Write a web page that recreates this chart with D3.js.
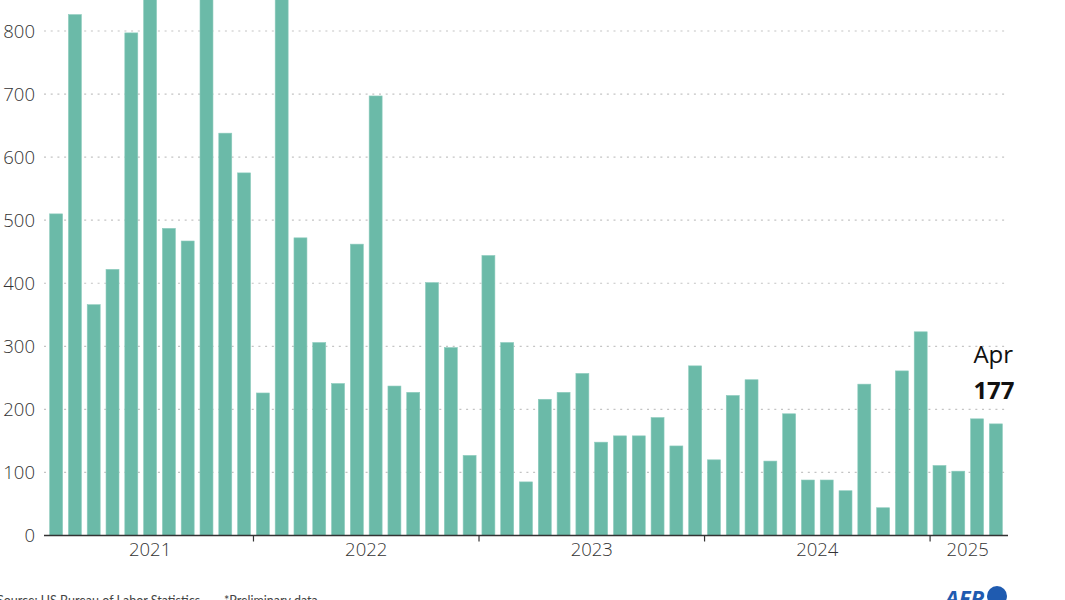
<!DOCTYPE html>
<html>
<head>
<meta charset="utf-8">
<script src="https://cdn.jsdelivr.net/npm/d3@7"></script>
<style>
  html, body { margin: 0; padding: 0; background: #fff; }
  svg { display: block; font-family: "Open Sans", "Noto Sans", sans-serif; }
</style>
</head>
<body>
<div id="chart"></div>
<script>
// monthly US job gains, thousands (Feb 2021 - Apr 2025)
const months = [
  "2021-02", "2021-03", "2021-04", "2021-05", "2021-06", "2021-07", "2021-08", "2021-09", "2021-10", "2021-11", "2021-12",
  "2022-01", "2022-02", "2022-03", "2022-04", "2022-05", "2022-06", "2022-07", "2022-08", "2022-09", "2022-10", "2022-11", "2022-12",
  "2023-01", "2023-02", "2023-03", "2023-04", "2023-05", "2023-06", "2023-07", "2023-08", "2023-09", "2023-10", "2023-11", "2023-12",
  "2024-01", "2024-02", "2024-03", "2024-04", "2024-05", "2024-06", "2024-07", "2024-08", "2024-09", "2024-10", "2024-11", "2024-12",
  "2025-01", "2025-02", "2025-03", "2025-04"
];
const jobs = [
  510, 826, 366, 422, 797, 1090, 487, 467, 880, 638, 575,
  226, 900, 472, 306, 241, 462, 697, 237, 227, 401, 298, 127,
  444, 306, 85, 216, 227, 257, 148, 158, 158, 187, 142, 269,
  120, 222, 247, 118, 193, 88, 88, 71, 240, 44, 261, 323,
  111, 102, 185, 177
];
const years = ["2021", "2022", "2023", "2024", "2025"];
const yTicks = [0, 100, 200, 300, 400, 500, 600, 700, 800];
const lastLabel = "Apr";
const sourceText = "Source: US Bureau of Labor Statistics";
const noteText = "*Preliminary data";

const data = months.map((m, i) => ({ month: m, year: m.slice(0, 4), value: jobs[i] }));

const W = 1065, H = 600;
const margin = { top: 31, right: 57, bottom: 64.5, left: 44 };

const svg = d3.select("#chart").append("svg")
  .attr("width", W)
  .attr("height", H);

const x = d3.scaleBand()
  .domain(months)
  .range([margin.left, W - margin.right])
  .paddingInner(0.31)
  .paddingOuter(0.3);

const y = d3.scaleLinear()
  .domain([0, 800])
  .range([H - margin.bottom, margin.top]);

// dotted grid
svg.append("g")
  .selectAll("line")
  .data(yTicks.filter(d => d > 0))
  .enter()
  .append("line")
  .attr("x1", margin.left)
  .attr("x2", W - margin.right)
  .attr("y1", d => y(d))
  .attr("y2", d => y(d))
  .attr("stroke", "#c4c4c4")
  .attr("stroke-width", 1.2)
  .attr("stroke-dasharray", "2 4.7");

// y labels
svg.append("g")
  .selectAll("text")
  .data(yTicks)
  .enter()
  .append("text")
  .attr("x", 35)
  .attr("y", d => y(d))
  .attr("dy", "0.36em")
  .attr("text-anchor", "end")
  .attr("font-size", "18.5px")
  .attr("font-weight", 300)
  .attr("fill", "#333")
  .text(d => d);

// bars
svg.append("g")
  .selectAll("rect")
  .data(data)
  .enter()
  .append("rect")
  .attr("x", d => x(d.month))
  .attr("width", x.bandwidth())
  .attr("y", d => y(d.value))
  .attr("height", d => y(0) - y(d.value))
  .attr("fill", "#6bbaa8")
  .attr("stroke", "#8ccbbd")
  .attr("stroke-width", 0.6);

// x axis line
svg.append("line")
  .attr("x1", margin.left)
  .attr("x2", W - margin.right)
  .attr("y1", y(0))
  .attr("y2", y(0))
  .attr("stroke", "#333")
  .attr("stroke-width", 1.5);

// year boundary ticks
const gap = x.step() * x.paddingInner() / 2;
svg.append("g")
  .selectAll("line")
  .data(years.slice(1))
  .enter()
  .append("line")
  .attr("x1", d => x(d + "-01") - gap)
  .attr("x2", d => x(d + "-01") - gap)
  .attr("y1", y(0))
  .attr("y2", y(0) + 6)
  .attr("stroke", "#333")
  .attr("stroke-width", 1.2);

// year labels, centred under each year's bars
svg.append("g")
  .selectAll("text")
  .data(years)
  .enter()
  .append("text")
  .attr("x", yr => {
    const ms = months.filter(m => m.startsWith(yr));
    return (x(ms[0]) + x(ms[ms.length - 1]) + x.bandwidth()) / 2;
  })
  .attr("y", y(0) + 20)
  .attr("text-anchor", "middle")
  .attr("font-size", "18.5px")
  .attr("font-weight", 300)
  .attr("fill", "#333")
  .text(d => d);

// last value callout
const last = data[data.length - 1];
svg.append("text")
  .attr("x", x(last.month) - 16)
  .attr("y", 363)
  .attr("font-size", "24px")
  .attr("fill", "#111")
  .text(lastLabel);
svg.append("text")
  .attr("x", x(last.month) - 16)
  .attr("y", 399)
  .attr("font-size", "24px")
  .attr("font-weight", 700)
  .attr("fill", "#111")
  .text(last.value);

// footer (cut by the bottom edge, as in the source image)
svg.append("text")
  .attr("x", -3)
  .attr("y", 605)
  .attr("font-family", "Lato, sans-serif")
  .attr("font-size", "12.5px")
  .attr("fill", "#444")
  .text(sourceText);
svg.append("text")
  .attr("x", 224)
  .attr("y", 605)
  .attr("font-family", "Lato, sans-serif")
  .attr("font-size", "12.5px")
  .attr("fill", "#444")
  .text(noteText);

// AFP mark
svg.append("text")
  .attr("x", 945)
  .attr("y", 606)
  .attr("font-size", "22px")
  .attr("font-weight", 700)
  .attr("font-style", "italic")
  .attr("fill", "#1f5bb0")
  .text("AFP");
svg.append("circle")
  .attr("cx", 997)
  .attr("cy", 596)
  .attr("r", 10)
  .attr("fill", "#1f5bb0");
</script>
</body>
</html>
